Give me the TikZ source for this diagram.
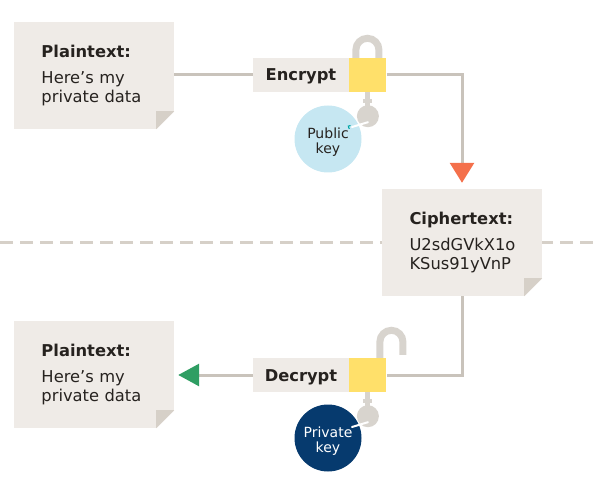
\documentclass[tikz,border=0pt]{standalone}
\usepackage{fontspec}
\setmainfont{DejaVu Sans}
\usepackage{tikz}
\usetikzlibrary{positioning,arrows.meta}
\definecolor{paper}{HTML}{EFEBE7}
\definecolor{fold}{HTML}{D6D0C8}
\definecolor{wire}{HTML}{C9C3BB}
\definecolor{metal}{HTML}{D8D4CE}
\definecolor{brass}{HTML}{FFE06A}
\definecolor{inkdark}{HTML}{26221F}
\definecolor{tipout}{HTML}{F4704B}
\definecolor{tipback}{HTML}{2F9E63}
\definecolor{pubblue}{HTML}{C6E7F2}
\definecolor{privblue}{HTML}{063A6E}
\tikzset{
  doc/.style={rectangle, fill=paper, minimum width=160pt, minimum height=107pt, inner xsep=27.5pt, inner ysep=0pt,
              text width=105pt, align=left, text=inkdark, font=\fontsize{16.3}{19}\selectfont},
  tag/.style={rectangle, fill=paper, minimum width=96pt, minimum height=34pt, inner sep=0pt,
              text height=12pt, text depth=0pt, text=inkdark, font=\fontsize{16.3}{18}\selectfont\bfseries},
  lock/.style={rectangle, fill=brass, minimum width=37pt, minimum height=34pt, inner sep=0pt},
  badge/.style={circle, minimum size=67pt, inner sep=0pt, align=center, font=\fontsize{14}{15}\selectfont},
  wireline/.style={draw=wire, line width=3pt},
  shackle/.style={draw=metal, line width=7pt},
  keymetal/.style={draw=metal, fill=metal},
  boundary/.style={draw=fold, line width=3pt, dash pattern=on 13pt off 7pt},
}
\begin{document}
\begin{tikzpicture}[x=1pt, y=-1pt]
  \useasboundingbox (0,0) rectangle (600,489);
  % boundary goes first, documents sit on it
  \draw[boundary] (0,243) -- (594,243);

  \node[doc] (plainA) at (94,75.5) {\textbf{Plaintext:}\\[7pt]Here’s my\\private data};
  \node[doc] (cipher) at (462,242.5) {\textbf{Ciphertext:}\\[7pt]U2sdGVkX1o\\KSus91yVnP};
  \node[doc] (plainB) at (94,374.5) {\textbf{Plaintext:}\\[7pt]Here’s my\\private data};

  % folded corners
  \foreach \docname in {plainA,cipher,plainB}{
    \fill[white] ([xshift=-18pt,yshift=-0.5pt]\docname.south east) -- ([xshift=0.5pt,yshift=18pt]\docname.south east) -- ([xshift=0.5pt,yshift=-0.5pt]\docname.south east) -- cycle;
    \fill[fold] ([xshift=-18pt]\docname.south east) -- ([yshift=18pt]\docname.south east) -- ([xshift=-18pt,yshift=18pt]\docname.south east) -- cycle;
  }

  \node[tag] (encrypt) at (301,75) {Encrypt};
  \node[lock, right=0pt of encrypt] (enclock) {};
  \node[tag] (decrypt) at (301,375) {Decrypt};
  \node[lock, right=0pt of decrypt] (declock) {};

  \draw[wireline] (plainA.east |- encrypt.west) -- (encrypt.west);
  \draw[wireline, shorten >=6pt, -{Triangle[width=24pt,length=20pt,tipout]}] (enclock.east) -| (cipher.north);
  \draw[wireline] (cipher.south) |- (declock.east);
  \draw[wireline, shorten >=4pt, -{Triangle[width=22pt,length=21pt,tipback]}] (decrypt.west) -- (decrypt.west -| plainB.east);

  % shackles, closed and open
  \draw[shackle] ([xshift=-12pt]enclock.north) -- ++(0,-8) arc[start angle=180, end angle=0, radius=11.5pt] -- ([xshift=11pt]enclock.north);
  \draw[shackle] ([xshift=12pt]declock.north) -- ++(0,-16) arc[start angle=180, end angle=0, radius=11.5pt] -- ++(0,13);

  \node[badge, fill=pubblue, text=inkdark] (pubkey) at (328,139) {\rule{0pt}{17pt}Public\\key};
  \node[badge, fill=privblue, text=white] (privkey) at (328,438) {\rule{0pt}{17pt}Private\\key};

  % keys lie over the badges
  \foreach \lockname in {enclock,declock}{
    \draw[keymetal, line width=0pt] ([xshift=-2.5pt]\lockname.south) rectangle ([xshift=2pt,yshift=-16pt]\lockname.south);
    \draw[keymetal, line width=0pt] ([xshift=-4.5pt,yshift=-7pt]\lockname.south) rectangle ([xshift=4pt,yshift=-10pt]\lockname.south);
    \fill[metal] ([yshift=-24pt]\lockname.south) circle (11pt);
  }

  \draw[white, line width=2pt, line cap=round] (352,127) -- ([yshift=-30pt]enclock.south);
  \draw[white, line width=2pt, line cap=round] (352,427) -- ([yshift=-30pt]declock.south);
  \draw[teal!70!cyan, line width=1pt] (350.5,125.5) arc[start angle=60, end angle=270, radius=1.6pt];
\end{tikzpicture}
\end{document}
